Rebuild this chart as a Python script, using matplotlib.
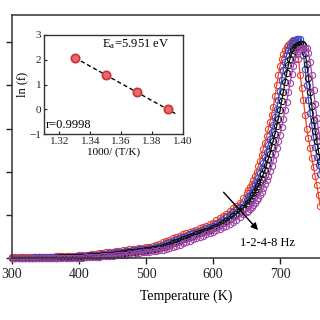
import numpy as np
import matplotlib
matplotlib.use("Agg")
import matplotlib.pyplot as plt

plt.rcParams['font.family'] = ['Liberation Serif', 'DejaVu Serif']
plt.rcParams['mathtext.fontset'] = 'stix'

# temperature grid (K): 5 K steps up to 645, 2.5 K steps over the peak
temp = np.concatenate([np.arange(300, 650, 5), np.arange(650, 760.1, 2.5)])

# loss peak curves, one per frequency
f1hz = [.02, .02, .02, .02, .02, .02, .02, .03, .03, .03,
        .03, .03, .03, .04, .04, .04, .04, .05, .05, .05,
        .06, .06, .07, .08, .09, .10, .11, .12, .13, .14,
        .15, .16, .17, .18, .19, .20, .21, .22, .23, .24,
        .25, .26, .28, .30, .33, .36, .39, .42, .46, .49,
        .52, .55, .58, .61, .63, .66, .69, .72, .75, .78,
        .82, .87, .92, .97, 1.03, 1.09, 1.15, 1.21, 1.28, 1.38,
        1.50, 1.57, 1.64, 1.72, 1.80, 1.90, 2.00, 2.12, 2.25, 2.38,
        2.52, 2.67, 2.82, 2.98, 3.15, 3.32, 3.50, 3.75, 4.00, 4.23,
        4.45, 4.60, 4.72, 4.81, 4.88, 4.94, 4.98, 5.02, 5.05, 5.04,
        4.90, 4.62, 4.25, 3.95, 3.65, 3.32, 3.00, 2.77, 2.55, 2.32,
        2.10, 1.90, 1.70, 1.45, 1.20]
f2hz = [.01, .01, .01, .01, .01, .01, .01, .02, .02, .02,
        .02, .02, .02, .02, .03, .03, .03, .03, .03, .04,
        .04, .04, .05, .06, .06, .07, .08, .09, .10, .11,
        .12, .13, .14, .15, .16, .17, .18, .19, .20, .21,
        .22, .23, .24, .26, .28, .31, .34, .37, .40, .43,
        .46, .49, .52, .55, .58, .60, .63, .66, .69, .72,
        .75, .79, .84, .89, .94, 1.00, 1.06, 1.12, 1.18, 1.26,
        1.35, 1.41, 1.47, 1.54, 1.61, 1.69, 1.77, 1.86, 1.96, 2.08,
        2.20, 2.33, 2.46, 2.61, 2.76, 2.92, 3.08, 3.26, 3.45, 3.66,
        3.88, 4.12, 4.35, 4.55, 4.70, 4.82, 4.92, 4.98, 5.02, 5.05,
        5.07, 5.08, 5.08, 4.95, 4.70, 4.38, 4.00, 3.66, 3.35, 3.07,
        2.80, 2.57, 2.35, 2.15, 1.95]
f4hz = [0, 0, 0, 0, 0, .01, .01, .01, .01, .01,
        .01, .01, .01, .01, .02, .02, .02, .02, .02, .02,
        .03, .03, .03, .04, .04, .05, .05, .06, .07, .08,
        .08, .09, .10, .11, .12, .13, .14, .15, .16, .17,
        .18, .19, .20, .21, .23, .25, .28, .31, .34, .37,
        .40, .43, .46, .49, .52, .55, .58, .61, .63, .66,
        .69, .72, .76, .81, .86, .91, .97, 1.03, 1.09, 1.15,
        1.23, 1.28, 1.33, 1.39, 1.45, 1.52, 1.59, 1.67, 1.75, 1.84,
        1.94, 2.05, 2.16, 2.29, 2.42, 2.57, 2.72, 2.88, 3.05, 3.23,
        3.42, 3.63, 3.85, 4.07, 4.28, 4.46, 4.62, 4.73, 4.82, 4.88,
        4.92, 4.94, 4.95, 4.95, 4.93, 4.75, 4.50, 4.18, 3.85, 3.52,
        3.20, 2.94, 2.70, 2.47, 2.25]
f8hz = [0, 0, 0, 0, 0, 0, 0, 0, 0, 0,
        0, 0, 0, 0, .01, .01, .01, .01, .01, .01,
        .01, .01, .02, .02, .02, .03, .03, .04, .04, .05,
        .05, .06, .07, .07, .08, .09, .10, .11, .12, .13,
        .14, .15, .16, .17, .18, .19, .21, .23, .25, .28,
        .31, .34, .37, .40, .43, .46, .49, .52, .55, .58,
        .61, .64, .67, .71, .75, .79, .84, .89, .95, 1.01,
        1.07, 1.10, 1.14, 1.18, 1.23, 1.28, 1.34, 1.40, 1.47, 1.54,
        1.62, 1.71, 1.80, 1.90, 2.01, 2.13, 2.26, 2.40, 2.54, 2.70,
        2.86, 3.04, 3.22, 3.42, 3.62, 3.84, 4.05, 4.26, 4.45, 4.60,
        4.72, 4.79, 4.84, 4.86, 4.87, 4.87, 4.86, 4.75, 4.55, 4.25,
        3.90, 3.57, 3.25, 2.97, 2.70]
curves = [f1hz, f2hz, f4hz, f8hz]
colors = ['#e5442a', '#4048c8', '#111111', '#a045a8']

# Arrhenius inset
inv_t = [1.33, 1.35, 1.37, 1.39]
ln_f = [2.08, 1.39, 0.69, 0.0]

fig = plt.figure(figsize=(3.2, 3.2), dpi=100)
fig.set_facecolor('white')

ax = fig.add_axes([12/320, 1-258/320, 335/320, 243/320])
for y, c in zip(curves, colors):
    ax.plot(temp, y, color=c, lw=0.9, marker='o', ms=4.5, mfc='none',
            mec=c, mew=0.8, clip_on=False)
ax.set_xlim(300, 800)
ax.set_ylim(0, 5.63)
ax.set_xticks([300, 400, 500, 600, 700])
ax.set_yticks([0, 1, 2, 3, 4, 5])
ax.tick_params(direction='out', length=4, width=1, labelsize=10,
               labelleft=False, colors='#222222')
for s in ax.spines.values():
    s.set_color('#333333')
    s.set_linewidth(1.1)

ax.annotate('', xy=(670, 0.6), xytext=(613, 1.57),
            arrowprops=dict(arrowstyle='-|>', color='k', lw=1,
                            mutation_scale=10))
ax.text(682, 0.35, '1-2-4-8 Hz', fontsize=9, ha='center', va='center')
fig.text(186/320, 1-296/320, 'Temperature (K)', fontsize=10,
         ha='center', va='center')

ins = fig.add_axes([44/320, 1-134/320, 139/320, 99/320])
fit = np.polyfit(inv_t, ln_f, 1)
xx = np.array([1.33, 1.395])
ins.plot(xx, np.polyval(fit, xx), 'k--', lw=1, dashes=(3, 2))
ins.plot(inv_t, ln_f, 'o', ms=6, mfc='#e86a6a', mec='#d03030', mew=1.2)
ins.set_xlim(1.31, 1.40)
ins.set_ylim(-1, 3)
ins.set_xticks([1.32, 1.34, 1.36, 1.38, 1.40])
ins.set_yticks([-1, 0, 1, 2, 3])
ins.tick_params(direction='in', length=2.5, labelsize=8, pad=2,
                colors='#222222')
for s in ins.spines.values():
    s.set_color('#333333')
    s.set_linewidth(1)
ins.set_xlabel('1000/ (T/K)', fontsize=8, labelpad=1)
ins.set_ylabel('ln (f)', fontsize=9, labelpad=1)
ins.text(0.42, 0.91, r'E$_\mathregular{a}$=5.951 eV', fontsize=9,
         transform=ins.transAxes, va='center', ha='left')
ins.text(0.01, 0.09, 'r=0.9998', fontsize=9,
         transform=ins.transAxes, va='center', ha='left')

fig.savefig('out.png', dpi=100)
